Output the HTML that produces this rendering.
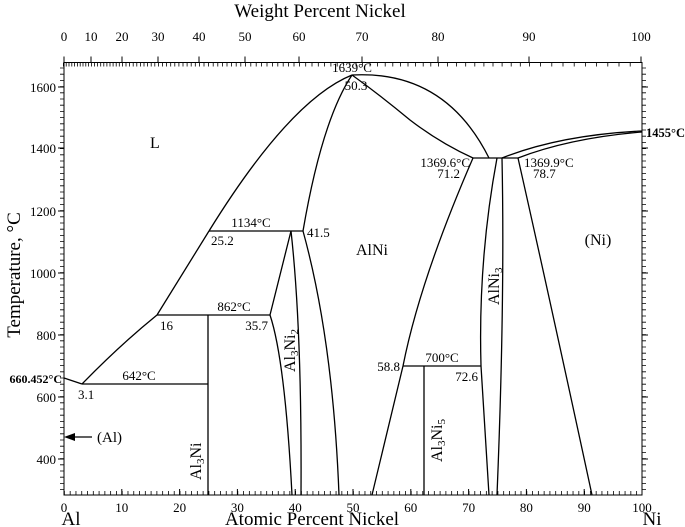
<!DOCTYPE html>
<html><head><meta charset="utf-8"><style>
html,body{margin:0;padding:0;background:#fff}
svg{display:block}
text{font-family:"Liberation Serif",serif;fill:#000}
</style></head><body>
<svg width="685" height="527" viewBox="0 0 685 527" xmlns="http://www.w3.org/2000/svg">
<g fill="none" stroke="#000" stroke-width="1">
<rect x="64" y="62.5" width="578" height="432.5"/>
<line x1="64" y1="493" x2="642" y2="493" stroke-width="4" stroke-dasharray="0.8 4.98"/>
<path d="M64 495v-6M121.8 495v-6M179.6 495v-6M237.4 495v-6M295.2 495v-6M353 495v-6M410.8 495v-6M468.6 495v-6M526.4 495v-6M584.2 495v-6M642 495v-6"/>
<g stroke-width="4">
<line x1="63" y1="64.5" x2="91" y2="64.5" stroke-dasharray="0.8 2"/>
<line x1="91" y1="64.5" x2="122" y2="64.5" stroke-dasharray="0.8 2.3"/>
<line x1="122" y1="64.5" x2="158" y2="64.5" stroke-dasharray="0.8 2.8"/>
<line x1="158" y1="64.5" x2="199" y2="64.5" stroke-dasharray="0.8 3.3"/>
<line x1="199" y1="64.5" x2="245" y2="64.5" stroke-dasharray="0.8 3.8"/>
<line x1="245" y1="64.5" x2="299" y2="64.5" stroke-dasharray="0.8 4.6"/>
<line x1="299" y1="64.5" x2="362" y2="64.5" stroke-dasharray="0.8 5.5"/>
<line x1="362" y1="64.5" x2="438" y2="64.5" stroke-dasharray="0.8 6.8"/>
<line x1="438" y1="64.5" x2="529" y2="64.5" stroke-dasharray="0.8 8.3"/>
<line x1="529" y1="64.5" x2="641" y2="64.5" stroke-dasharray="0.8 10.4"/>
</g>
<path d="M64 62.5v-6M91 62.5v-6M122 62.5v-6M158 62.5v-6M199 62.5v-6M245 62.5v-6M299 62.5v-6M362 62.5v-6M438 62.5v-6M529 62.5v-6M641 62.5v-6"/>
<line x1="62" y1="490" x2="62" y2="63" stroke-width="4" stroke-dasharray="0.8 5.4"/>
<line x1="644" y1="490" x2="644" y2="63" stroke-width="4" stroke-dasharray="0.8 5.4"/>
<path d="M64 87h-6M64 148h-6M64 211h-6M64 273h-6M64 335h-6M64 397h-6M64 459h-6"/>
<path d="M642 87h6M642 148h6M642 211h6M642 273h6M642 335h6M642 397h6M642 459h6"/>
</g>

<g fill="none" stroke="#000" stroke-width="1.3">
<path d="M64 378 L82 384"/>
<path d="M82 384 H208"/>
<path d="M82 384 Q120 345 157 315"/>
<path d="M157 315 H270"/>
<path d="M208 315 V495"/>
<path d="M157 315 L209 231"/>
<path d="M209 231 H303"/>
<path d="M209 231 Q290 100 352 75"/>
<path d="M303 231 Q322 120 352 75"/>
<path d="M291 231 L270 315 Q285 360 292 495"/>
<path d="M291 231 Q302 330 301 495"/>
<path d="M303 231 Q333 340 339 495"/>
<path d="M352 75 Q445 70 489 158"/>
<path d="M352 75 Q380 95 410 120 Q440 143 473 158"/>
<path d="M473 158 H518"/>
<path d="M473 158 Q420 280 403 366 L372 495"/>
<path d="M497 158 Q478 260 481 366 L489 495"/>
<path d="M502 158 Q505 300 497 495"/>
<path d="M518 158 Q550 300 592 495"/>
<path d="M502 158 Q560 135 642 131"/>
<path d="M518 158 Q570 138 642 132"/>
<path d="M403 366 H481"/>
<path d="M424 366 V495"/>
</g>
<path d="M92 437 H72" stroke="#000" stroke-width="1.2"/>
<polygon points="64,437 75,433 75,441" fill="#000"/>

<g font-size="13">
<text x="64" y="41" text-anchor="middle">0</text>
<text x="91" y="41" text-anchor="middle">10</text>
<text x="122" y="41" text-anchor="middle">20</text>
<text x="158" y="41" text-anchor="middle">30</text>
<text x="199" y="41" text-anchor="middle">40</text>
<text x="245" y="41" text-anchor="middle">50</text>
<text x="299" y="41" text-anchor="middle">60</text>
<text x="362" y="41" text-anchor="middle">70</text>
<text x="438" y="41" text-anchor="middle">80</text>
<text x="529" y="41" text-anchor="middle">90</text>
<text x="641" y="41" text-anchor="middle">100</text>
<text x="64" y="512" text-anchor="middle">0</text>
<text x="121.8" y="512" text-anchor="middle">10</text>
<text x="179.6" y="512" text-anchor="middle">20</text>
<text x="237.4" y="512" text-anchor="middle">30</text>
<text x="295.2" y="512" text-anchor="middle">40</text>
<text x="353" y="512" text-anchor="middle">50</text>
<text x="410.8" y="512" text-anchor="middle">60</text>
<text x="468.6" y="512" text-anchor="middle">70</text>
<text x="526.4" y="512" text-anchor="middle">80</text>
<text x="584.2" y="512" text-anchor="middle">90</text>
<text x="642" y="512" text-anchor="middle">100</text>
<text x="56" y="92" text-anchor="end">1600</text>
<text x="56" y="153" text-anchor="end">1400</text>
<text x="56" y="216" text-anchor="end">1200</text>
<text x="56" y="278" text-anchor="end">1000</text>
<text x="56" y="340" text-anchor="end">800</text>
<text x="56" y="402" text-anchor="end">600</text>
<text x="56" y="464" text-anchor="end">400</text>
</g>
<text x="320" y="17" font-size="19" text-anchor="middle">Weight Percent Nickel</text>
<text x="312" y="525" font-size="19" text-anchor="middle">Atomic Percent Nickel</text>
<text x="71" y="525" font-size="19" text-anchor="middle">Al</text>
<text x="652" y="525" font-size="19" text-anchor="middle">Ni</text>
<text transform="translate(20,275) rotate(-90)" font-size="19" text-anchor="middle">Temperature, °C</text>

<g font-size="13">
<text x="352" y="72" text-anchor="middle">1639°C</text>
<text x="356" y="90" text-anchor="middle">50.3</text>
<text x="150" y="148" font-size="16">L</text>
<text x="251" y="227" text-anchor="middle">1134°C</text>
<text x="211" y="245">25.2</text>
<text x="307" y="237">41.5</text>
<text x="372" y="255" font-size="16" text-anchor="middle">AlNi</text>
<text x="598" y="245" font-size="16" text-anchor="middle">(Ni)</text>
<text x="470" y="167" text-anchor="end">1369.6°C</text>
<text x="460" y="178" text-anchor="end">71.2</text>
<text x="524" y="167">1369.9°C</text>
<text x="533" y="178">78.7</text>
<text x="646" y="137" font-weight="bold" font-size="12.5">1455°C</text>
<text x="234" y="311" text-anchor="middle">862°C</text>
<text x="160" y="330">16</text>
<text x="268" y="330" text-anchor="end">35.7</text>
<text x="139" y="380" text-anchor="middle">642°C</text>
<text x="78" y="399">3.1</text>
<text x="62" y="383" font-weight="bold" text-anchor="end" font-size="12">660.452°C</text>
<text x="97" y="442" font-size="15">(Al)</text>
<text x="442" y="362" text-anchor="middle">700°C</text>
<text x="400" y="371" text-anchor="end">58.8</text>
<text x="478" y="381" text-anchor="end">72.6</text>
</g>
<g font-size="16">
<text transform="translate(201,480) rotate(-90)">Al<tspan font-size="11" dy="3">3</tspan><tspan dy="-3">Ni</tspan></text>
<text transform="translate(295,372) rotate(-90)">Al<tspan font-size="11" dy="3">3</tspan><tspan dy="-3">Ni</tspan><tspan font-size="11" dy="3">2</tspan></text>
<text transform="translate(499,305) rotate(-90)">AlNi<tspan font-size="11" dy="3">3</tspan></text>
<text transform="translate(442,462) rotate(-90)">Al<tspan font-size="11" dy="3">3</tspan><tspan dy="-3">Ni</tspan><tspan font-size="11" dy="3">5</tspan></text>
</g>
</svg>
</body></html>
